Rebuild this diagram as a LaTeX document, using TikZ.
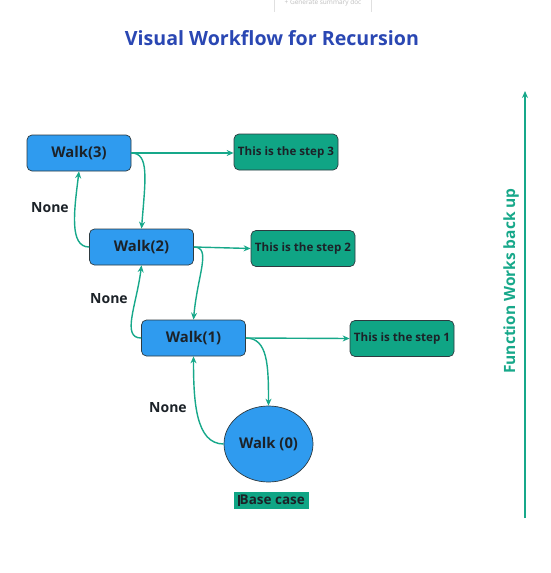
\documentclass[tikz,border=0pt]{standalone}
\usepackage{fontspec}
\setmainfont{Open Sans}
\usetikzlibrary{arrows.meta,shapes.geometric}
\definecolor{walkblue}{HTML}{2F9BEF}
\definecolor{stepgreen}{HTML}{10A585}
\definecolor{linkgreen}{HTML}{17A88A}
\definecolor{titleblue}{HTML}{2A47B3}
\definecolor{edgegray}{HTML}{2E3A40}
\definecolor{textdark}{HTML}{1C2228}
\tikzset{
  walkbox/.style={draw=edgegray, line width=0.7pt, fill=walkblue, rounded corners=5pt,
    minimum width=104pt, minimum height=36pt, inner sep=0pt, text=textdark,
    font=\fontsize{14.8}{16}\selectfont\bfseries},
  stepbox/.style={draw=edgegray, line width=0.7pt, fill=stepgreen, rounded corners=5pt,
    minimum width=104pt, minimum height=36pt, inner sep=0pt, text=textdark,
    font=\fontsize{11.6}{13}\selectfont\bfseries},
  link/.style={draw=linkgreen, line width=1.4pt, -{Stealth[length=7pt,width=6pt]}},
  lbl/.style={text=textdark, font=\fontsize{14}{16}\selectfont\bfseries, inner sep=0pt}
}
\begin{document}
\begin{tikzpicture}[x=1pt,y=-1pt]
\useasboundingbox[fill=white] (0,0) rectangle (550,573);
% faint UI artefact at top
\draw[draw=black!12, line width=0.6pt] (274,-2) -- (274,12) (371,-2) -- (371,12);
\node[text=black!25, font=\fontsize{6.5}{7}\selectfont, inner sep=0pt] (gen) at (323,3) {+ Generate summary doc};
% title
\node[text=titleblue, font=\fontsize{19.6}{22}\selectfont\bfseries, inner sep=0pt] (title) at (272,38) {Visual Workflow for Recursion};
% nodes
\node[walkbox] (w3) at (79,153) {Walk(3)};
\node[stepbox] (s3) at (286,152) {This is the step 3};
\node[walkbox] (w2) at (141.5,247) {Walk(2)};
\node[stepbox] (s2) at (303,248.5) {This is the step 2};
\node[walkbox] (w1) at (193.5,338) {Walk(1)};
\node[stepbox] (s1) at (402,338.5) {This is the step 1};
\node[ellipse, draw=edgegray, line width=0.7pt, fill=walkblue, minimum width=89pt, minimum height=76pt,
  inner sep=0pt, text=textdark, font=\fontsize{14.8}{16}\selectfont\bfseries] (w0) at (268.5,444) {Walk (0)};
\node[fill=stepgreen, minimum width=75pt, minimum height=17pt, inner sep=0pt, text=textdark,
  font=\fontsize{13.5}{15}\selectfont\bfseries] (base) at (271.5,500.5) {\rule[-1.5pt]{1.6pt}{11pt}Base case};
% labels
\node[lbl] (n3) at (50,208) {None};
\node[lbl] (n2) at (109,299) {None};
\node[lbl] (n1) at (168,408) {None};
% connectors
\draw[link] (w3.east) -- (s3.west |- w3.east);
\draw[link] (w3.east) .. controls +(18,0) and +(4,-50) .. (w2.north);
\draw[link] (w2.west) .. controls +(-20,0) and +(-5,40) .. (w3.south);
\draw[link] (w2.east) -- (s2.west);
\draw[link] (w2.east) .. controls +(18,0) and +(4,-45) .. (w1.north);
\draw[link] (w1.west) .. controls +(-20,0) and +(-5,40) .. (w2.south);
\draw[link] (w1.east) -- (s1.west);
\draw[link] (w1.east) .. controls +(22,0) and +(0,-40) .. (w0.north);
\draw[link] (w0.west) .. controls +(-28,0) and +(0,45) .. (w1.south);
% side arrow
\coordinate (ab) at (525,518);
\coordinate (at) at (525,91);
\draw[link, line width=1.2pt] (ab) -- (at);
\node[rotate=90, text=linkgreen, font=\fontsize{15.5}{17}\selectfont\bfseries, inner sep=0pt] (fw) at (511,281) {Function Works back up};
\end{tikzpicture}
\end{document}
